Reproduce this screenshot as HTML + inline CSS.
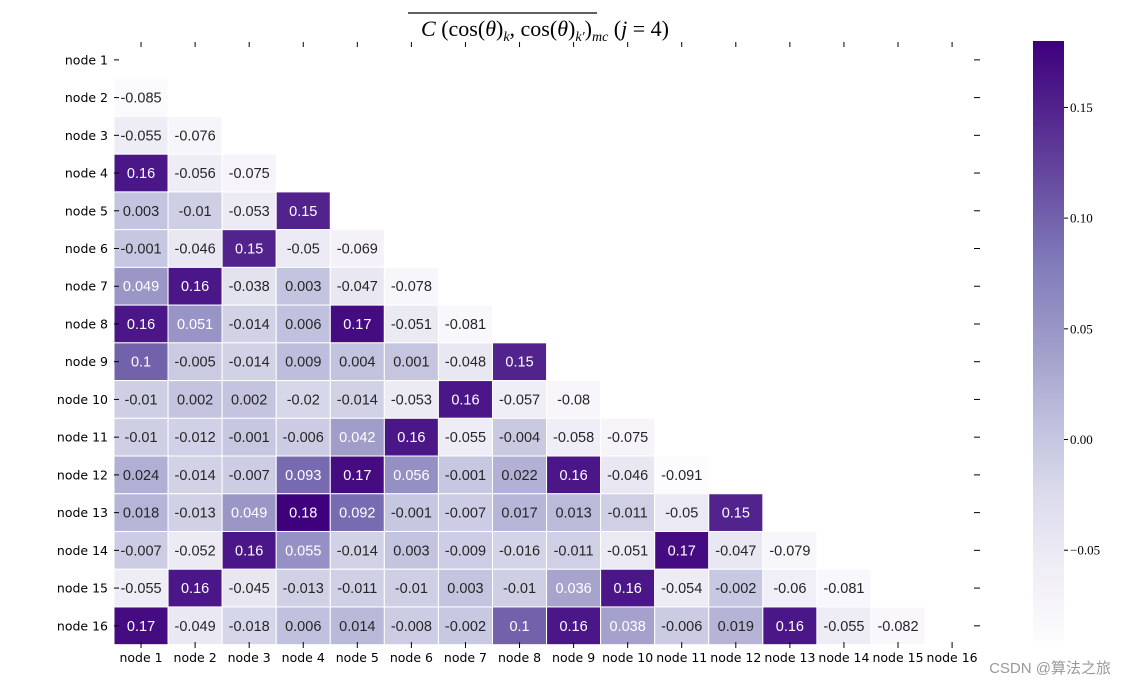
<!DOCTYPE html>
<html><head><meta charset="utf-8"><style>
body{margin:0;background:#fff;}
svg{display:block;font-family:"Liberation Sans","DejaVu Sans",sans-serif;}
</style></head><body>
<svg id="chart" width="1127" height="685" viewBox="0 0 1127 685">
<text x="545" y="36" text-anchor="middle" font-family="Liberation Serif, serif" font-size="22"><tspan font-style="italic">C</tspan> (cos(<tspan font-style="italic">θ</tspan>)<tspan font-size="14" dy="5" font-style="italic">k</tspan><tspan dy="-5">, cos(</tspan><tspan font-style="italic">θ</tspan>)<tspan font-size="14" dy="5" font-style="italic">k′</tspan><tspan dy="-5">)</tspan><tspan font-size="14" dy="5" font-style="italic">mc</tspan><tspan dy="-5"> (</tspan><tspan font-style="italic">j</tspan> = 4)</text>
<line x1="408" y1="13" x2="597" y2="13" stroke="#000" stroke-width="1.2"/>
<g id="cells"></g>
<g id="axes"></g>
<g id="cbar"></g>
<text x="1111" y="673" text-anchor="end" font-size="15" fill="#999" font-family="Liberation Sans, Noto Sans CJK SC, sans-serif">CSDN @算法之旅</text>
</svg>
<script>
const labels = ["node 1","node 2","node 3","node 4","node 5","node 6","node 7","node 8","node 9","node 10","node 11","node 12","node 13","node 14","node 15","node 16"];
const values = [
[],
[-0.085],
[-0.055,-0.076],
[0.16,-0.056,-0.075],
[0.003,-0.01,-0.053,0.15],
[-0.001,-0.046,0.15,-0.05,-0.069],
[0.049,0.16,-0.038,0.003,-0.047,-0.078],
[0.16,0.051,-0.014,0.006,0.17,-0.051,-0.081],
[0.1,-0.005,-0.014,0.009,0.004,0.001,-0.048,0.15],
[-0.01,0.002,0.002,-0.02,-0.014,-0.053,0.16,-0.057,-0.08],
[-0.01,-0.012,-0.001,-0.006,0.042,0.16,-0.055,-0.004,-0.058,-0.075],
[0.024,-0.014,-0.007,0.093,0.17,0.056,-0.001,0.022,0.16,-0.046,-0.091],
[0.018,-0.013,0.049,0.18,0.092,-0.001,-0.007,0.017,0.013,-0.011,-0.05,0.15],
[-0.007,-0.052,0.16,0.055,-0.014,0.003,-0.009,-0.016,-0.011,-0.051,0.17,-0.047,-0.079],
[-0.055,0.16,-0.045,-0.013,-0.011,-0.01,0.003,-0.01,0.036,0.16,-0.054,-0.002,-0.06,-0.081],
[0.17,-0.049,-0.018,0.006,0.014,-0.008,-0.002,0.1,0.16,0.038,-0.006,0.019,0.16,-0.055,-0.082]
];
const cbarTicks = [-0.05,0.00,0.05,0.10,0.15];
const vmin = -0.091, vmax = 0.18;

const NS="http://www.w3.org/2000/svg";
const X0=114, CW=54.07, Y0=41, RH=37.73;
const xPos=i=>X0+i*CW, yPos=j=>Y0+j*RH;
const stops=["#fcfbfd","#efedf5","#dadaeb","#bcbddc","#9e9ac8","#807dba","#6a51a3","#54278f","#3f007d"];
function hex(h){return [1,3,5].map(k=>parseInt(h.substr(k,2),16));}
function cmap(t){t=Math.max(0,Math.min(1,t));const s=t*(stops.length-1);const i=Math.min(stops.length-2,Math.floor(s));const f=s-i;const a=hex(stops[i]),b=hex(stops[i+1]);return "rgb("+a.map((v,k)=>Math.round(v+(b[k]-v)*f)).join(",")+")";}
const norm=v=>(v-vmin)/(vmax-vmin);
function mk(tag,attrs,parent){const e=document.createElementNS(NS,tag);for(const k in attrs)e.setAttribute(k,attrs[k]);parent.appendChild(e);return e;}
const cells=document.getElementById("cells");
values.forEach((row,r)=>row.forEach((v,c)=>{
  const rect=mk("rect",{x:xPos(c),y:yPos(r),width:CW,height:RH,fill:cmap(norm(v)),stroke:"#fff","stroke-width":1},cells);
  
  
  const t=mk("text",{x:xPos(c)+CW/2,y:yPos(r)+RH/2+5,"text-anchor":"middle","font-size":14.5,fill:norm(v)>0.44?"#fff":"#262626"},cells);
  t.textContent=String(v);
  
  
}));
const axes=document.getElementById("axes");
labels.forEach((l,i)=>{
  const cy=yPos(i)+RH/2, cx=xPos(i)+CW/2;
  const ty=mk("text",{x:108,y:cy+4.5,"text-anchor":"end","font-size":12.5,"font-family":"DejaVu Sans, sans-serif"},axes);
  ty.textContent=l;
  
  
  mk("line",{x1:114,x2:119,y1:cy,y2:cy,stroke:"#000"},axes);
  mk("line",{x1:974,x2:980,y1:cy,y2:cy,stroke:"#000"},axes);
  const tx=mk("text",{x:cx,y:662,"text-anchor":"middle","font-size":12.5,"font-family":"DejaVu Sans, sans-serif"},axes);
  tx.textContent=l;
  
  
  mk("line",{x1:cx,x2:cx,y1:642,y2:648,stroke:"#000"},axes);
  mk("line",{x1:cx,x2:cx,y1:42,y2:47,stroke:"#000"},axes);
});
const cb=document.getElementById("cbar");
const CBX=1033,CBW=31,CBT=41,CBB=641;
const defs=mk("defs",{},cb);
const g=mk("linearGradient",{id:"grad",x1:0,y1:1,x2:0,y2:0},defs);
stops.forEach((s,i)=>mk("stop",{offset:i/(stops.length-1),"stop-color":s},g));
const bar=mk("rect",{x:CBX,y:CBT,width:CBW,height:CBB-CBT,fill:"url(#grad)"},cb);


cbarTicks.forEach(v=>{
  const y=CBB-norm(v)*(CBB-CBT);
  mk("line",{x1:CBX+CBW,x2:CBX+CBW+4,y1:y,y2:y,stroke:"#000"},cb);
  const t=mk("text",{x:CBX+CBW+6,y:y+4.5,"font-size":13,"font-family":"Liberation Serif, serif"},cb);
  t.textContent=(v<0?"−":"")+Math.abs(v).toFixed(2);
  
  
});
</script>
</body></html>
